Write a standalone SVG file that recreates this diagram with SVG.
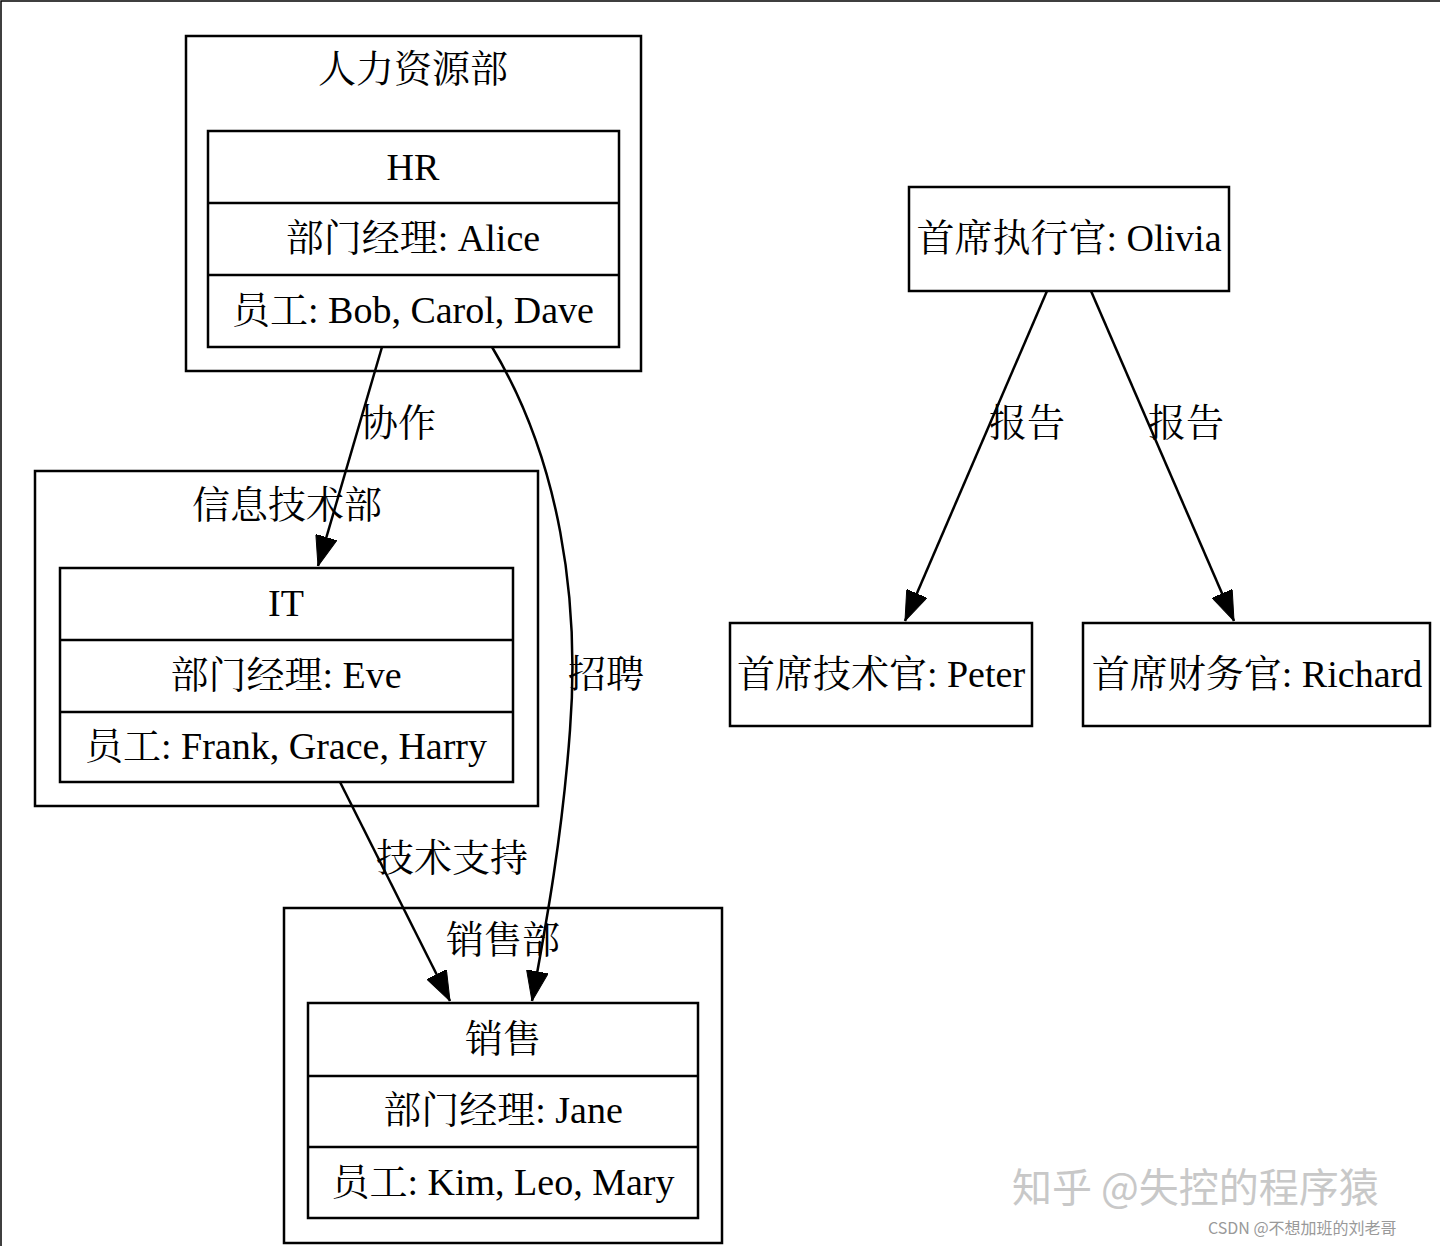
<svg xmlns="http://www.w3.org/2000/svg" width="1440" height="1246" viewBox="0 0 1440 1246">
<defs>
<style>
rect,line,path{fill:none;stroke:#000;stroke-width:2.5}
text{font-family:"Liberation Serif","Noto Serif CJK SC","Noto Sans CJK SC",serif;font-size:38px;text-anchor:middle;fill:#000}
.wm{font-family:"Noto Sans CJK SC",sans-serif;fill:#c8c8c8;text-anchor:start}
</style>
<marker id="ah" viewBox="0 0 30 22" refX="30" refY="11" markerWidth="30" markerHeight="22" markerUnits="userSpaceOnUse" orient="auto"><path d="M0,0 L30,11 L0,22z" style="fill:#000;stroke:#000;stroke-width:1"/></marker>
</defs>
<rect x="0" y="0" width="1440" height="1246" style="fill:#fff;stroke:none"/>
<path d="M1,1246 V1 H1440" style="stroke-width:1.5"/>
<g id="cluster_hr">
<rect x="186" y="36" width="455" height="335"/>
<text x="413" y="82">人力资源部</text>
</g>
<g id="hr">
<rect x="208" y="131" width="411" height="216"/>
<line x1="208" y1="203" x2="619" y2="203"/><line x1="208" y1="275" x2="619" y2="275"/>
<text x="413" y="180">HR</text>
<text x="413" y="251">部门经理: Alice</text>
<text x="413" y="323">员工: Bob, Carol, Dave</text>
</g>
<g id="cluster_it">
<rect x="35" y="471" width="503" height="335"/>
<text x="287" y="518">信息技术部</text>
</g>
<g id="it">
<rect x="60" y="568" width="453" height="214"/>
<line x1="60" y1="640" x2="513" y2="640"/><line x1="60" y1="712" x2="513" y2="712"/>
<text x="286" y="616">IT</text>
<text x="286" y="688">部门经理: Eve</text>
<text x="286" y="759">员工: Frank, Grace, Harry</text>
</g>
<g id="cluster_sales">
<rect x="284" y="908" width="438" height="335"/>
<text x="503" y="953">销售部</text>
</g>
<g id="sales">
<rect x="308" y="1003" width="390" height="215"/>
<line x1="308" y1="1076" x2="698" y2="1076"/><line x1="308" y1="1147" x2="698" y2="1147"/>
<text x="503" y="1052">销售</text>
<text x="503" y="1123">部门经理: Jane</text>
<text x="503" y="1195">员工: Kim, Leo, Mary</text>
</g>
<g id="ceo"><rect x="909" y="187" width="320" height="104"/><text x="1069" y="251">首席执行官: Olivia</text></g>
<g id="cto"><rect x="730" y="623" width="302" height="103"/><text x="881" y="687">首席技术官: Peter</text></g>
<g id="cfo"><rect x="1083" y="623" width="347" height="103"/><text x="1257" y="687">首席财务官: Richard</text></g>
<g id="edges">
<path d="M382,347 L318,566" marker-end="url(#ah)"/>
<text x="398" y="436">协作</text>
<path d="M492,347 C560,460 580,600 570,730 C562,840 545,930 532,1001" marker-end="url(#ah)"/>
<text x="606" y="687">招聘</text>
<path d="M340,782 L450,1001" marker-end="url(#ah)"/>
<text x="452" y="871">技术支持</text>
<path d="M1047,291 L905,621" marker-end="url(#ah)"/>
<text x="1027" y="436">报告</text>
<path d="M1091,291 L1234,621" marker-end="url(#ah)"/>
<text x="1186" y="436">报告</text>
</g>
<text class="wm" x="1012" y="1202" style="font-size:40px">知乎 @失控的程序猿</text>
<text class="wm" x="1208" y="1234" style="font-size:16px;fill:#999">CSDN @不想加班的刘老哥</text>
</svg>
